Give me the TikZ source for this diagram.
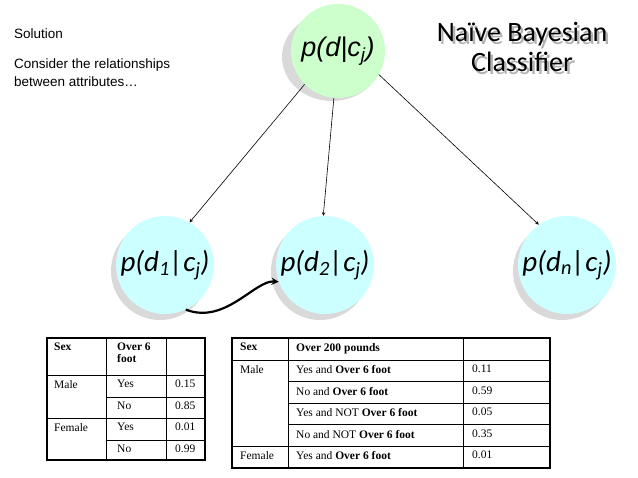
\documentclass[tikz,border=0pt]{standalone}
\usepackage{fontspec}
\setmainfont{Liberation Serif}
\newfontfamily\arialf{Liberation Sans}
\newfontfamily\calf{Carlito}
\begin{document}
\begin{tikzpicture}[x=1pt,y=-1pt,
  bub/.style={circle,minimum size=#1,inner sep=0pt},
  arr/.style={-stealth,line width=0.6pt},
  tline/.style={line width=0.4pt},
  tframe/.style={line width=1.4pt},
  tt/.style={font=\fontsize{11.5}{12}\selectfont,anchor=north west,inner sep=0pt,align=left}]
\useasboundingbox (0,0) rectangle (638,478);
\definecolor{gbub}{RGB}{204,255,204}
\definecolor{cbub}{RGB}{204,255,255}
% bubbles with shadow
\fill[gray!30] (332,57) ellipse (50 and 44);
\node[bub=94,fill=gbub] (top) at (338,51) {\arialf\fontsize{27}{29}\selectfont\itshape p(d|c\textsubscript{j})};
\foreach \n/\x/\t in {d1/165/{p(d\textsubscript{1}|c\textsubscript{j})}, d2/325/{p(d\textsubscript{2}|c\textsubscript{j})}, dn/567/{p(d\textsubscript{n}|c\textsubscript{j})}}{
  \fill[gray!30] (\x-5,271) circle (49);
  \node[bub=98,fill=cbub] (\n) at (\x,265) {\calf\fontsize{29}{31}\selectfont\itshape \t};
}
\draw[arr] (top.225) -- (d1.60);
\draw[arr] (top.265) -- (d2.92);
\draw[arr] (top.330) -- (dn.125);
\draw[-stealth,line width=2.2pt] (d1.-65) .. controls (225,325) and (255,280) .. (d2.200);
% text
\node[anchor=north west,inner sep=0pt,align=left,font=\arialf\fontsize{13.5}{18}\selectfont] (sol) at (14,29) {Solution\\[12pt]Consider the relationships\\between attributes\dots};
\node[font=\calf\fontsize{28}{30}\selectfont,align=center,text=gray!60] (tsh) at (524.5,49.5) {Naïve Bayesian\\Classifier};
\node[font=\calf\fontsize{28}{30}\selectfont,align=center] (title) at (522,47) {Naïve Bayesian\\Classifier};
% left table
\draw[tframe] (47,338) rectangle (205,460);
\draw[tline] (106,338) -- (106,460) (166,338) -- (166,460);
\draw[tline] (47,375) -- (205,375) (106,397) -- (205,397) (47,418) -- (205,418) (106,440) -- (205,440);
\node[tt] (a1) at (54,343) {\textbf{Sex}};
\node[tt] (a2) at (117,343) {\textbf{Over 6}\\\textbf{foot}};
\foreach \y/\s/\v/\w in {380/Male/Yes/0.15, 402//No/0.85, 423/Female/Yes/0.01, 445//No/0.99}{
  \node[tt] at (54,\y) {\s}; \node[tt] at (117,\y) {\v}; \node[tt] at (175,\y) {\w};}
% right table
\draw[tframe] (232,338) rectangle (550,468);
\draw[tline] (288,338) -- (288,468) (463,338) -- (463,468);
\draw[tline] (232,360) -- (550,360) (288,381) -- (550,381) (288,403) -- (550,403) (288,424) -- (550,424) (232,446) -- (550,446);
\node[tt] (b1) at (240,343) {\textbf{Sex}};
\node[tt] (b2) at (296,343) {\textbf{Over 200 pounds}};
\node[tt] at (240,365) {Male};
\node[tt] at (240,451) {Female};
\foreach \y/\a/\v in {365/{Yes and \textbf{Over 6 foot}}/0.11, 387/{No and \textbf{Over 6 foot}}/0.59, 408/{Yes and NOT \textbf{Over 6 foot}}/0.05, 430/{No and NOT \textbf{Over 6 foot}}/0.35, 451/{Yes and \textbf{Over 6 foot}}/0.01}{
  \node[tt] at (296,\y) {\a}; \node[tt] at (472,\y) {\v};}
\end{tikzpicture}
\end{document}
